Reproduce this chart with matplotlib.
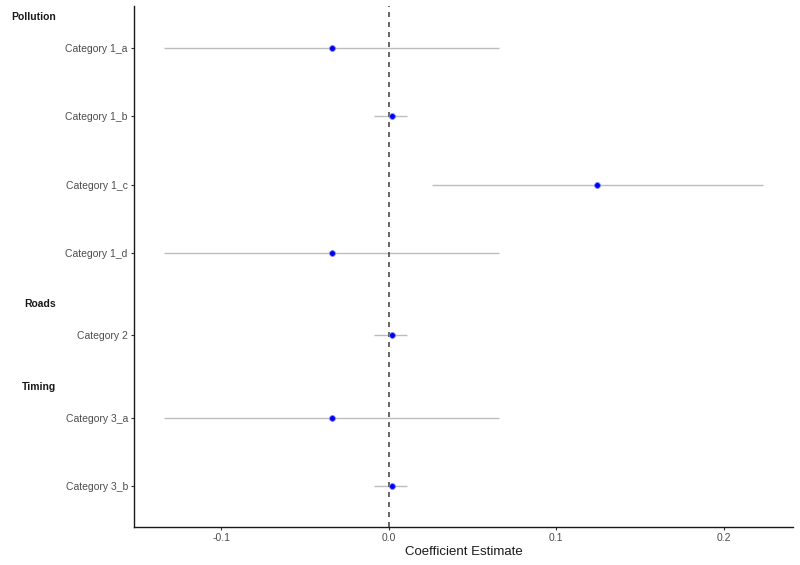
import matplotlib.pyplot as plt
from matplotlib.transforms import blended_transform_factory

groups = ["Pollution", "Pollution", "Pollution", "Pollution", "Roads", "Timing", "Timing"]
categories = ["Category 1_a", "Category 1_b", "Category 1_c", "Category 1_d",
              "Category 2", "Category 3_a", "Category 3_b"]
estimates = [-0.034, 0.0018, 0.1245, -0.034, 0.0018, -0.034, 0.0018]
ci_low = [-0.1341, -0.0088, 0.0257, -0.1341, -0.0088, -0.1341, -0.0088]
ci_high = [0.0659, 0.0107, 0.2235, 0.0659, 0.0107, 0.0659, 0.0107]
xticks = [-0.1, 0.0, 0.1, 0.2]

plt.rcParams["font.family"] = ["Liberation Sans", "DejaVu Sans"]

# row positions: each group gets a header slot, categories one unit apart
ypos = []
headers = []
y = 0.0
prev = None
for g in groups:
    if g != prev:
        if prev is not None:
            y += 0.73
        headers.append((g, y))
        y += 0.475
        prev = g
    else:
        y += 1.0
    ypos.append(y)

fig = plt.figure(figsize=(8, 5.65), dpi=100)
ax = fig.add_axes([0.1675, 0.0673, 0.8235, 0.9217])

ax.hlines(ypos, ci_low, ci_high, color="#bdbdbd", linewidth=1.0, zorder=1)
ax.axvline(0, color="#4d4d4d", linestyle=(0, (3, 3)), linewidth=1.2, zorder=2)
ax.plot(estimates, ypos, "o", color="#0000ee", markersize=4.2,
        markeredgecolor="#8080ff", markeredgewidth=0.6, zorder=3)

ax.set_xlim(-0.1522, 0.2412)
ax.set_ylim(ypos[-1] + 0.6, -0.135)
ax.set_xticks(xticks)
ax.set_xticklabels([f"{t:.1f}" for t in xticks])
ax.set_yticks(ypos)
ax.set_yticklabels(categories)
ax.tick_params(axis="both", labelsize=7.5, labelcolor="#4d4d4d", color="#333333",
               length=2.5, width=0.8, pad=2)
ax.set_xlabel("Coefficient Estimate", fontsize=9.5, color="#1a1a1a", labelpad=2)

for side in ["top", "right"]:
    ax.spines[side].set_visible(False)
for side in ["left", "bottom"]:
    ax.spines[side].set_color("#1a1a1a")
    ax.spines[side].set_linewidth(1.0)

trans = blended_transform_factory(fig.transFigure, ax.transData)
for name, hy in headers:
    ax.text(0.07, hy + 0.01, name, transform=trans, ha="right", va="center_baseline",
            fontsize=7.5, fontweight="bold", color="#1a1a1a")

fig.savefig("out.png", dpi=100)
